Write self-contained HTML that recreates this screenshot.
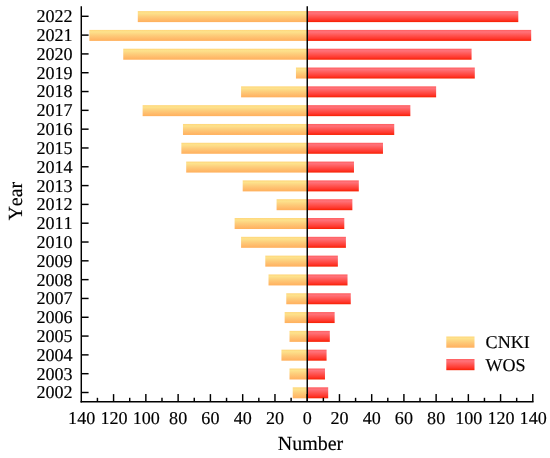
<!DOCTYPE html>
<html><head><meta charset="utf-8"><title>Chart</title>
<style>
html,body{margin:0;padding:0;background:#fff;}
body{width:550px;height:458px;overflow:hidden;}
svg{display:block;}
text{font-family:"Liberation Serif",serif;fill:#000;text-rendering:geometricPrecision;font-kerning:none;stroke:#000;stroke-width:0.15px;}
</style></head><body>
<svg width="550" height="458" viewBox="0 0 550 458">
<defs>
<linearGradient id="gc" x1="0" y1="0" x2="0" y2="1"><stop offset="0" stop-color="#ffd67a"/><stop offset="0.18" stop-color="#fde28c"/><stop offset="0.5" stop-color="#fdcc7a"/><stop offset="0.8" stop-color="#ffba6a"/><stop offset="1" stop-color="#ffb05c"/></linearGradient>
<linearGradient id="gw" x1="0" y1="0" x2="0" y2="1"><stop offset="0" stop-color="#ff5e5e"/><stop offset="0.18" stop-color="#ff727a"/><stop offset="0.5" stop-color="#ff5450"/><stop offset="0.8" stop-color="#ff362c"/><stop offset="1" stop-color="#f62000"/></linearGradient>
</defs>
<rect width="550" height="458" fill="#fff"/>

<rect x="137.78" y="11.10" width="169.47" height="11.0" fill="url(#gc)"/>
<rect x="307.25" y="11.10" width="211.04" height="11.0" fill="url(#gw)"/>
<rect x="89.36" y="29.91" width="217.89" height="11.0" fill="url(#gc)"/>
<rect x="307.25" y="29.91" width="223.93" height="11.0" fill="url(#gw)"/>
<rect x="123.25" y="48.72" width="184.00" height="11.0" fill="url(#gc)"/>
<rect x="307.25" y="48.72" width="164.32" height="11.0" fill="url(#gw)"/>
<rect x="295.95" y="67.53" width="11.30" height="11.0" fill="url(#gc)"/>
<rect x="307.25" y="67.53" width="167.54" height="11.0" fill="url(#gw)"/>
<rect x="241.08" y="86.34" width="66.17" height="11.0" fill="url(#gc)"/>
<rect x="307.25" y="86.34" width="128.88" height="11.0" fill="url(#gw)"/>
<rect x="142.62" y="105.15" width="164.63" height="11.0" fill="url(#gc)"/>
<rect x="307.25" y="105.15" width="103.10" height="11.0" fill="url(#gw)"/>
<rect x="182.97" y="123.96" width="124.28" height="11.0" fill="url(#gc)"/>
<rect x="307.25" y="123.96" width="86.99" height="11.0" fill="url(#gw)"/>
<rect x="181.36" y="142.77" width="125.89" height="11.0" fill="url(#gc)"/>
<rect x="307.25" y="142.77" width="75.72" height="11.0" fill="url(#gw)"/>
<rect x="186.20" y="161.58" width="121.05" height="11.0" fill="url(#gc)"/>
<rect x="307.25" y="161.58" width="46.72" height="11.0" fill="url(#gw)"/>
<rect x="242.69" y="180.39" width="64.56" height="11.0" fill="url(#gc)"/>
<rect x="307.25" y="180.39" width="51.55" height="11.0" fill="url(#gw)"/>
<rect x="276.58" y="199.20" width="30.67" height="11.0" fill="url(#gc)"/>
<rect x="307.25" y="199.20" width="45.11" height="11.0" fill="url(#gw)"/>
<rect x="234.62" y="218.01" width="72.63" height="11.0" fill="url(#gc)"/>
<rect x="307.25" y="218.01" width="37.05" height="11.0" fill="url(#gw)"/>
<rect x="241.08" y="236.82" width="66.17" height="11.0" fill="url(#gc)"/>
<rect x="307.25" y="236.82" width="38.66" height="11.0" fill="url(#gw)"/>
<rect x="265.29" y="255.63" width="41.96" height="11.0" fill="url(#gc)"/>
<rect x="307.25" y="255.63" width="30.61" height="11.0" fill="url(#gw)"/>
<rect x="268.51" y="274.44" width="38.74" height="11.0" fill="url(#gc)"/>
<rect x="307.25" y="274.44" width="40.27" height="11.0" fill="url(#gw)"/>
<rect x="286.27" y="293.25" width="20.98" height="11.0" fill="url(#gc)"/>
<rect x="307.25" y="293.25" width="43.50" height="11.0" fill="url(#gw)"/>
<rect x="284.65" y="312.06" width="22.60" height="11.0" fill="url(#gc)"/>
<rect x="307.25" y="312.06" width="27.39" height="11.0" fill="url(#gw)"/>
<rect x="289.50" y="330.87" width="17.75" height="11.0" fill="url(#gc)"/>
<rect x="307.25" y="330.87" width="22.55" height="11.0" fill="url(#gw)"/>
<rect x="281.43" y="349.68" width="25.82" height="11.0" fill="url(#gc)"/>
<rect x="307.25" y="349.68" width="19.33" height="11.0" fill="url(#gw)"/>
<rect x="289.50" y="368.49" width="17.75" height="11.0" fill="url(#gc)"/>
<rect x="307.25" y="368.49" width="17.72" height="11.0" fill="url(#gw)"/>
<rect x="292.72" y="387.30" width="14.53" height="11.0" fill="url(#gc)"/>
<rect x="307.25" y="387.30" width="20.94" height="11.0" fill="url(#gw)"/>
<g stroke="#000" stroke-width="1.45" fill="none" stroke-linecap="butt">
<path d="M81.28999999999999 6.3V402.45"/>
<path d="M80.53999999999999 401.7H533.54"/>
<path d="M307.25 6.3V401.7"/>
<path d="M81.28999999999999 16.30h7.3"/>
<path d="M81.28999999999999 35.11h7.3"/>
<path d="M81.28999999999999 53.92h7.3"/>
<path d="M81.28999999999999 72.73h7.3"/>
<path d="M81.28999999999999 91.54h7.3"/>
<path d="M81.28999999999999 110.35h7.3"/>
<path d="M81.28999999999999 129.16h7.3"/>
<path d="M81.28999999999999 147.97h7.3"/>
<path d="M81.28999999999999 166.78h7.3"/>
<path d="M81.28999999999999 185.59h7.3"/>
<path d="M81.28999999999999 204.40h7.3"/>
<path d="M81.28999999999999 223.21h7.3"/>
<path d="M81.28999999999999 242.02h7.3"/>
<path d="M81.28999999999999 260.83h7.3"/>
<path d="M81.28999999999999 279.64h7.3"/>
<path d="M81.28999999999999 298.45h7.3"/>
<path d="M81.28999999999999 317.26h7.3"/>
<path d="M81.28999999999999 336.07h7.3"/>
<path d="M81.28999999999999 354.88h7.3"/>
<path d="M81.28999999999999 373.69h7.3"/>
<path d="M81.28999999999999 392.50h7.3"/>
<path d="M97.43 401.7v-3.9"/>
<path d="M113.57 401.7v-7.6"/>
<path d="M129.71 401.7v-3.9"/>
<path d="M145.85 401.7v-7.6"/>
<path d="M161.99 401.7v-3.9"/>
<path d="M178.13 401.7v-7.6"/>
<path d="M194.27 401.7v-3.9"/>
<path d="M210.41 401.7v-7.6"/>
<path d="M226.55 401.7v-3.9"/>
<path d="M242.69 401.7v-7.6"/>
<path d="M258.83 401.7v-3.9"/>
<path d="M274.97 401.7v-7.6"/>
<path d="M291.11 401.7v-3.9"/>
<path d="M307.25 401.7v-7.6"/>
<path d="M323.36 401.7v-3.9"/>
<path d="M339.47 401.7v-7.6"/>
<path d="M355.58 401.7v-3.9"/>
<path d="M371.69 401.7v-7.6"/>
<path d="M387.80 401.7v-3.9"/>
<path d="M403.91 401.7v-7.6"/>
<path d="M420.02 401.7v-3.9"/>
<path d="M436.13 401.7v-7.6"/>
<path d="M452.24 401.7v-3.9"/>
<path d="M468.35 401.7v-7.6"/>
<path d="M484.46 401.7v-3.9"/>
<path d="M500.57 401.7v-7.6"/>
<path d="M516.68 401.7v-3.9"/>
<path d="M532.79 401.7v-7.6"/>
</g>
<text x="72.6" y="22.25" font-size="18.1" text-anchor="end">2022</text>
<text x="72.6" y="41.06" font-size="18.1" text-anchor="end">2021</text>
<text x="72.6" y="59.87" font-size="18.1" text-anchor="end">2020</text>
<text x="72.6" y="78.68" font-size="18.1" text-anchor="end">2019</text>
<text x="72.6" y="97.49" font-size="18.1" text-anchor="end">2018</text>
<text x="72.6" y="116.30" font-size="18.1" text-anchor="end">2017</text>
<text x="72.6" y="135.11" font-size="18.1" text-anchor="end">2016</text>
<text x="72.6" y="153.92" font-size="18.1" text-anchor="end">2015</text>
<text x="72.6" y="172.73" font-size="18.1" text-anchor="end">2014</text>
<text x="72.6" y="191.54" font-size="18.1" text-anchor="end">2013</text>
<text x="72.6" y="210.35" font-size="18.1" text-anchor="end">2012</text>
<text x="72.6" y="229.16" font-size="18.1" text-anchor="end">2011</text>
<text x="72.6" y="247.97" font-size="18.1" text-anchor="end">2010</text>
<text x="72.6" y="266.78" font-size="18.1" text-anchor="end">2009</text>
<text x="72.6" y="285.59" font-size="18.1" text-anchor="end">2008</text>
<text x="72.6" y="304.40" font-size="18.1" text-anchor="end">2007</text>
<text x="72.6" y="323.21" font-size="18.1" text-anchor="end">2006</text>
<text x="72.6" y="342.02" font-size="18.1" text-anchor="end">2005</text>
<text x="72.6" y="360.83" font-size="18.1" text-anchor="end">2004</text>
<text x="72.6" y="379.64" font-size="18.1" text-anchor="end">2003</text>
<text x="72.6" y="398.45" font-size="18.1" text-anchor="end">2002</text>
<text x="81.69" y="424.3" font-size="18.1" text-anchor="middle">140</text>
<text x="113.97" y="424.3" font-size="18.1" text-anchor="middle">120</text>
<text x="146.25" y="424.3" font-size="18.1" text-anchor="middle">100</text>
<text x="178.13" y="424.3" font-size="18.1" text-anchor="middle">80</text>
<text x="210.41" y="424.3" font-size="18.1" text-anchor="middle">60</text>
<text x="242.69" y="424.3" font-size="18.1" text-anchor="middle">40</text>
<text x="274.97" y="424.3" font-size="18.1" text-anchor="middle">20</text>
<text x="307.25" y="424.3" font-size="18.1" text-anchor="middle">0</text>
<text x="339.47" y="424.3" font-size="18.1" text-anchor="middle">20</text>
<text x="371.69" y="424.3" font-size="18.1" text-anchor="middle">40</text>
<text x="403.91" y="424.3" font-size="18.1" text-anchor="middle">60</text>
<text x="436.13" y="424.3" font-size="18.1" text-anchor="middle">80</text>
<text x="468.75" y="424.3" font-size="18.1" text-anchor="middle">100</text>
<text x="500.97" y="424.3" font-size="18.1" text-anchor="middle">120</text>
<text x="533.19" y="424.3" font-size="18.1" text-anchor="middle">140</text>
<text x="310.5" y="449.8" font-size="20" text-anchor="middle">Number</text>
<text transform="translate(22.4,201.2) rotate(-90)" font-size="20" text-anchor="middle">Year</text>
<rect x="446.3" y="336.5" width="28.2" height="11.2" fill="url(#gc)"/>
<rect x="446.3" y="359" width="28.2" height="11.2" fill="url(#gw)"/>
<text x="485.6" y="348.3" font-size="18.1">CNKI</text>
<text x="485.4" y="370.5" font-size="18.1">WOS</text>
</svg></body></html>
